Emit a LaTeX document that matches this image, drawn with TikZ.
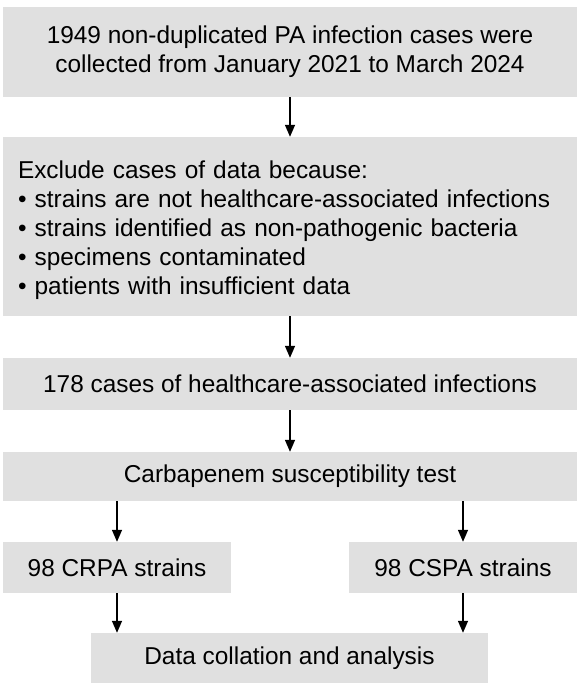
\documentclass[tikz,border=0pt]{standalone}
\usepackage{fontspec}
\setmainfont{Liberation Sans}
\usetikzlibrary{arrows.meta}
\definecolor{boxgray}{RGB}{224,224,224}
\begin{document}
\begin{tikzpicture}[x=1pt,y=-1pt,
		box/.style={fill=boxgray,inner sep=0pt,font=\fontsize{24.4}{29}\selectfont,align=center},
		arr/.style={-{Triangle[length=12pt,width=10pt]},line width=1.4pt}]
		\useasboundingbox (0,0) rectangle (578,685);
		\node[box,minimum width=574pt,minimum height=90pt] (collect) at (290,52) {1949 non-duplicated PA infection cases were\\collected from January 2021 to March 2024};
		\node[box,minimum width=574pt,minimum height=179pt,text width=544pt,align=left] (exclude) at (290,226.5) {\rule{0pt}{26pt}Exclude cases of data because:\\
			\textbullet{} strains are not healthcare-associated infections\\
			\textbullet{} strains identified as non-pathogenic bacteria\\
			\textbullet{} specimens contaminated\\
			\textbullet{} patients with insufficient data};
		\node[box,minimum width=574pt,minimum height=52pt] (hai) at (290,384) {178 cases of healthcare-associated infections};
		\node[box,minimum width=574pt,minimum height=49pt] (test) at (290,476.5) {Carbapenem susceptibility test};
		\node[box,minimum width=228pt,minimum height=51pt] (crpa) at (117,567.5) {98 CRPA strains};
		\node[box,minimum width=228pt,minimum height=51pt] (cspa) at (463,567.5) {98 CSPA strains};
		\node[box,minimum width=397pt,minimum height=50pt] (data) at (289.5,658) {Data collation and analysis};
		\draw[arr] (collect.south) -- (exclude.north);
		\draw[arr] (exclude.south) -- (hai.north);
		\draw[arr] (hai.south) -- (test.north);
		\draw[arr] (test.south -| crpa.north) -- (crpa.north);
		\draw[arr] (test.south -| cspa.north) -- (cspa.north);
		\draw[arr] (crpa.south) -- (crpa.south |- data.north);
		\draw[arr] (cspa.south) -- (cspa.south |- data.north);
\end{tikzpicture}
\end{document}
